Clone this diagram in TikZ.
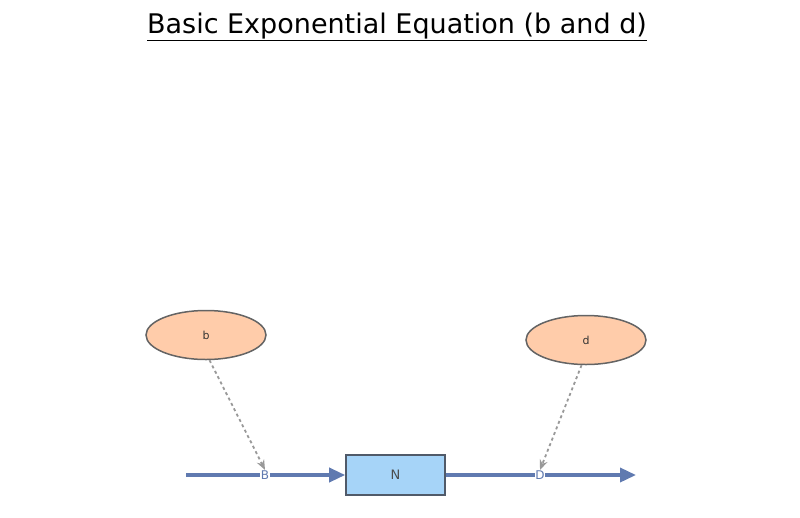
\documentclass[tikz,border=0pt]{standalone}
\usepackage{fontspec}
\setmainfont{DejaVu Sans}
\usetikzlibrary{arrows.meta,shapes.geometric}
\begin{document}
\begin{tikzpicture}[x=1pt,y=-1pt,
  flow/.style={line width=3.5pt, draw={rgb,255:red,96;green,122;blue,176}},
  ell/.style={ellipse, draw={rgb,255:red,100;green,100;blue,100}, line width=1.5pt, fill={rgb,255:red,255;green,204;blue,170}, minimum width=120pt, minimum height=49pt, font=\fontsize{11}{12}\selectfont, text=black!80},
  lbl/.style={font=\fontsize{12}{13}\selectfont, text={rgb,255:red,96;green,122;blue,176}, fill=white, inner sep=0.5pt},
  infl/.style={dashed, line width=1.8pt, draw=black!40, -{Stealth[length=10pt,width=8pt]}}]
\useasboundingbox (0,0) rectangle (800,517);
\node (title) at (397,27) {\fontsize{27}{30}\selectfont\underline{Basic Exponential Equation (b and d)}};
\node[ell] (b) at (206,335) {b};
\node[ell] (d) at (586,340) {d};
\node[draw={rgb,255:red,80;green,90;blue,105}, line width=1.6pt, fill={rgb,255:red,166;green,212;blue,248}, minimum width=99pt, minimum height=40pt, font=\fontsize{13}{14}\selectfont, text=black!70] (N) at (395.5,475) {N};
\coordinate (src) at (186,475);
\coordinate (snk) at (636,475);
\node[lbl] (B) at (265,475) {B};
\node[lbl] (D) at (540,475) {D};
\draw[flow] (src) -- (B);
\draw[flow, -{Triangle[length=16pt,width=14pt]}] (B) -- (N);
\draw[flow] (N) -- (D);
\draw[flow, -{Triangle[length=16pt,width=14pt]}] (D) -- (snk);
\draw[infl] (b.-82) -- (B.north);
\draw[infl] (d.-100) -- (D.north);
\end{tikzpicture}
\end{document}
